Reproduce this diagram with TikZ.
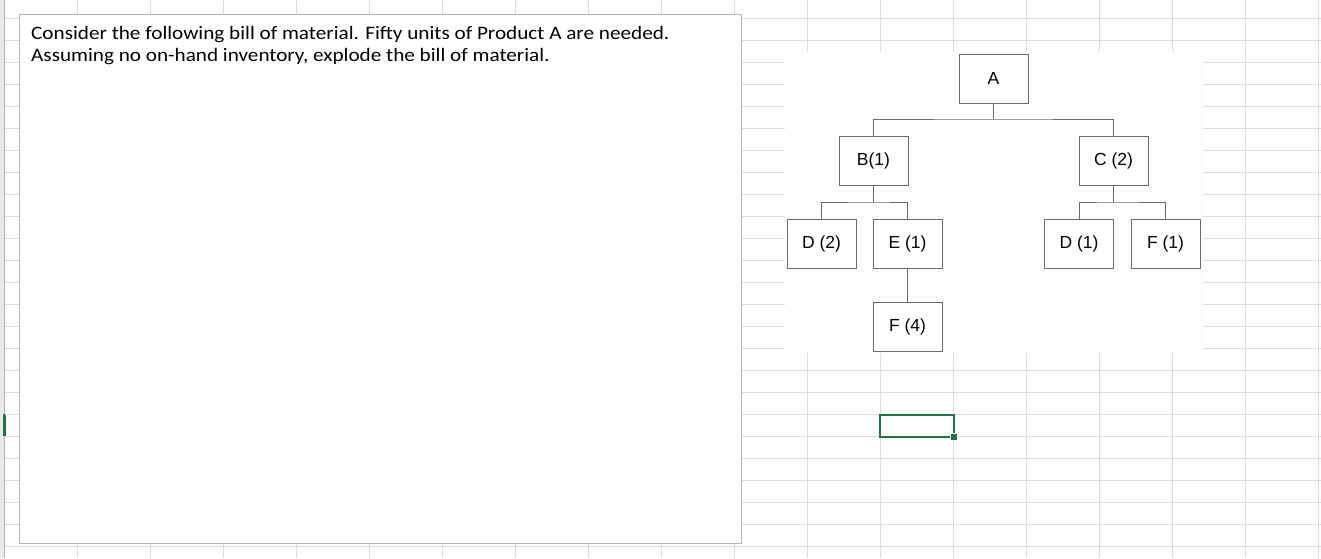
\documentclass[tikz,border=0pt]{standalone}
\usepackage{fontspec}
\setmainfont{Carlito}
\newfontfamily\calib[FakeStretch=1.115]{Carlito}
\newfontfamily\arialf{Liberation Sans}
\definecolor{gridc}{HTML}{DCDCDC}
\definecolor{boxc}{HTML}{B4B4B4}
\definecolor{xlgreen}{HTML}{217346}
\definecolor{diag}{HTML}{6A6A6A}
\definecolor{imgbg}{HTML}{FDFDFD}
\definecolor{hdr}{HTML}{E9E9E9}
\tikzset{
  bom/.style={draw=diag, line width=1pt, fill=white, minimum width=69pt, minimum height=49pt, inner sep=0pt, font=\arialf\fontsize{17.5}{19}\selectfont},
  link/.style={draw=diag, line width=1pt},
  txt/.style={anchor=base west, inner sep=0pt, font=\calib\fontsize{19}{22.7}\selectfont}
}
\begin{document}
\begin{tikzpicture}[x=1pt,y=-1pt]
\useasboundingbox (0,0) rectangle (1321,558);
\fill[white] (0,0) rectangle (1321,558);
% row header strip
\fill[hdr] (0,0) rectangle (4,558);
\draw[boxc, line width=1pt] (4,0) -- (4,558);
\fill[xlgreen] (2.5,414) rectangle (5.5,436);
% grid
\foreach \k in {0,...,24} {\draw[gridc, line width=1pt] (4.5,18.3+22*\k) -- (1321,18.3+22*\k);}
\foreach \k in {0,...,17} {\draw[gridc, line width=1pt] (77+73.05*\k,0) -- (77+73.05*\k,558);}
% text box
\draw[boxc, line width=1pt, fill=white] (19.5,14.5) rectangle (741.5,543.5);
\node[txt] (t1) at (31,39) {Consider the following bill of material. Fifty units of Product A are needed.};
\node[txt] (t2) at (31,61.7) {Assuming no on-hand inventory, explode the bill of material.};
% picture
\fill[imgbg] (785,51) rectangle (1203,353);
\node[bom] (A) at (993.5,78.5) {A};
\node[bom] (B) at (873.5,161) {B(1)};
\node[bom] (C) at (1113.5,161) {C (2)};
\node[bom] (D2) at (821.5,244) {D (2)};
\node[bom] (E1) at (907.5,244) {E (1)};
\node[bom] (F4) at (907.5,327) {F (4)};
\node[bom] (D1) at (1079,244) {D (1)};
\node[bom] (F1) at (1165.5,244) {F (1)};
\coordinate (ja) at (993.5,119);
\coordinate (jb) at (873.5,202);
\coordinate (jc) at (1113.5,202);
\draw[link] (A.south) -- (ja);
\draw[link] (B.north) |- (ja) -| (C.north);
\draw[link] (B.south) -- (jb);
\draw[link] (D2.north) |- (jb) -| (E1.north);
\draw[link] (E1.south) -- (F4.north);
\draw[link] (C.south) -- (jc);
\draw[link] (D1.north) |- (jc) -| (F1.north);
% selected cell
\draw[xlgreen, line width=2pt] (880,414.5) rectangle (953.5,436.5);
\fill[white] (950,433) rectangle (958,441);
\fill[xlgreen] (951,434) rectangle (957,440);
\end{tikzpicture}
\end{document}
